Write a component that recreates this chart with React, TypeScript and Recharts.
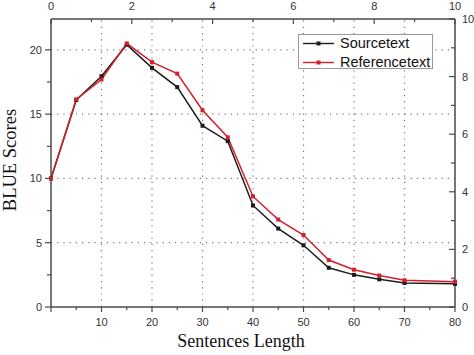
import React from 'react';
import { LineChart, Line, XAxis, YAxis, ReferenceLine, Legend, Label } from 'recharts';

// sentence length buckets and BLEU scores
const lengths = [0, 5, 10, 15, 20, 25, 30, 35, 40, 45, 50, 55, 60, 65, 70, 80];
const sourceScores = [10.0, 16.1, 17.95, 20.4, 18.6, 17.1, 14.1, 12.9, 7.9, 6.1, 4.8, 3.05, 2.5, 2.15, 1.87, 1.8];
const referenceScores = [10.0, 16.15, 17.7, 20.5, 19.05, 18.15, 15.3, 13.2, 8.6, 6.8, 5.6, 3.65, 2.9, 2.45, 2.08, 1.97];

const seriesNames = ['Sourcetext', 'Referencetext'];
const seriesColors = ['#1c1c1c', '#d2202c'];

const bottomTicks = [0, 5, 10, 15, 20, 25, 30, 35, 40, 45, 50, 55, 60, 65, 70, 75, 80];
const leftTicks = [0, 2.5, 5, 7.5, 10, 12.5, 15, 17.5, 20];
const topTicks = [0, 1, 2, 3, 4, 5, 6, 7, 8, 9, 10];
const rightTicks = [0, 1, 2, 3, 4, 5, 6, 7, 8, 9, 10];
const gridX = [10, 20, 30, 40, 50, 60, 70];
const gridY = [5, 10, 15, 20];

const data = lengths.map((len, i) => ({
  len,
  source: sourceScores[i],
  reference: referenceScores[i],
}));

const SANS = 'Arial, "Liberation Sans", sans-serif';
const SERIF = '"Times New Roman", "Liberation Serif", serif';
const FRAME = '#4a4a4a';
const TICK_TEXT = '#333';

const bottomTick = (props: any) => {
  const { x, y, payload } = props;
  const v = payload.value;
  const major = v % 10 === 0;
  return (
    <g>
      <line x1={x} x2={x} y1={y} y2={y + (major ? 5 : 3)} stroke={FRAME} strokeWidth={1.2} />
      {major && v !== 0 && (
        <text x={x} y={y + 15} textAnchor="middle" dominantBaseline="central" fontFamily={SANS} fontSize={11} fill={TICK_TEXT}>
          {v}
        </text>
      )}
    </g>
  );
};

const leftTick = (props: any) => {
  const { x, y, payload } = props;
  const v = payload.value;
  const major = v % 5 === 0;
  return (
    <g>
      <line x1={x - (major ? 6 : 4)} x2={x} y1={y} y2={y} stroke={FRAME} strokeWidth={1.2} />
      {major && (
        <text x={x - 9} y={y} textAnchor="end" dominantBaseline="central" fontFamily={SANS} fontSize={11} fill={TICK_TEXT}>
          {v}
        </text>
      )}
    </g>
  );
};

const topTick = (props: any) => {
  const { x, y, payload } = props;
  const v = payload.value;
  const major = v % 2 === 0;
  return (
    <g>
      <line x1={x} x2={x} y1={y} y2={y + (major ? 5 : 3)} stroke={FRAME} strokeWidth={1.2} />
      {major && (
        <text x={x} y={y - 13} textAnchor="middle" dominantBaseline="central" fontFamily={SANS} fontSize={11} fill={TICK_TEXT}>
          {v}
        </text>
      )}
    </g>
  );
};

const rightTick = (props: any) => {
  const { x, y, payload } = props;
  const v = payload.value;
  const major = v % 2 === 0;
  return (
    <g>
      <line x1={x - (major ? 6 : 4)} x2={x} y1={y} y2={y} stroke={FRAME} strokeWidth={1.2} />
      {major && (
        <text x={x + 7} y={y} textAnchor="start" dominantBaseline="central" fontFamily={SANS} fontSize={11} fill={TICK_TEXT}>
          {v}
        </text>
      )}
    </g>
  );
};

const squareDot = (color: string) => (props: any) => {
  const { cx, cy, index } = props;
  if (cx == null || cy == null) return <g key={index} />;
  return <rect key={index} x={cx - 2} y={cy - 2} width={4} height={4} fill={color} />;
};

const LegendBox = () => (
  <div
    style={{
      position: 'relative',
      width: 133,
      height: 33,
      border: '1px solid #9a9a9a',
      background: '#fff',
      fontFamily: SANS,
      fontSize: 14.5,
      color: '#111',
    }}
  >
    {seriesNames.map((name, i) => (
      <div
        key={name}
        style={{ position: 'absolute', left: 0, top: i * 19, height: 17, lineHeight: '17px', display: 'flex', alignItems: 'center' }}
      >
        <svg width={41} height={17} style={{ display: 'block' }}>
          <line x1={4} x2={35} y1={8.5} y2={8.5} stroke={seriesColors[i]} strokeWidth={1.4} />
          <rect x={17.5} y={6.5} width={4} height={4} fill={seriesColors[i]} />
        </svg>
        <span>{name}</span>
      </div>
    ))}
  </div>
);

export default function App() {
  const gridStyle = { stroke: '#777', strokeDasharray: '1.2 5', strokeWidth: 1.2 };
  return (
    <div style={{ position: 'absolute', left: 0, top: 0, width: 474, height: 355, background: '#fff' }}>
      <LineChart width={474} height={355} data={data} margin={{ top: 0, right: 0, bottom: 0, left: 0 }}>
        <XAxis
          xAxisId="bottom"
          dataKey="len"
          type="number"
          domain={[0, 80]}
          ticks={bottomTicks}
          interval={0}
          height={48}
          tickSize={0}
          tickMargin={0}
          tickLine={false}
          tick={bottomTick}
          axisLine={{ stroke: FRAME, strokeWidth: 1.5 }}
        >
          <Label
            content={() => (
              <text x={241} y={347} textAnchor="middle" fontFamily={SERIF} fontSize={18} fill="#111">
                Sentences Length
              </text>
            )}
          />
        </XAxis>
        {/* secondary top scale, 0-10, no series of its own */}
        <XAxis
          xAxisId="top"
          orientation="top"
          dataKey="len"
          type="number"
          domain={[0, 10]}
          allowDataOverflow
          ticks={topTicks}
          interval={0}
          height={19}
          tickSize={0}
          tickMargin={0}
          tickLine={false}
          tick={topTick}
          axisLine={{ stroke: FRAME, strokeWidth: 1.5 }}
        />
        <YAxis
          yAxisId="left"
          type="number"
          domain={[0, 22.4]}
          allowDataOverflow
          ticks={leftTicks}
          interval={0}
          width={51}
          tickSize={0}
          tickMargin={0}
          tickLine={false}
          tick={leftTick}
          axisLine={{ stroke: FRAME, strokeWidth: 1.5 }}
        >
          <Label
            content={() => (
              <text x={16} y={160} transform="rotate(-90 16 160)" textAnchor="middle" fontFamily={SERIF} fontSize={18.5} fill="#111">
                BLUE Scores
              </text>
            )}
          />
        </YAxis>
        <YAxis
          yAxisId="right"
          orientation="right"
          type="number"
          domain={[0, 10]}
          allowDataOverflow
          ticks={rightTicks}
          interval={0}
          width={19}
          tickSize={0}
          tickMargin={0}
          tickLine={false}
          tick={rightTick}
          axisLine={{ stroke: FRAME, strokeWidth: 1.5 }}
        />
        {gridX.map((v) => (
          <ReferenceLine key={'gx' + v} xAxisId="bottom" yAxisId="left" x={v} {...gridStyle} />
        ))}
        {gridY.map((v) => (
          <ReferenceLine key={'gy' + v} xAxisId="bottom" yAxisId="left" y={v} {...gridStyle} />
        ))}
        <Line
          xAxisId="bottom"
          yAxisId="left"
          type="linear"
          dataKey="source"
          name={seriesNames[0]}
          stroke={seriesColors[0]}
          strokeWidth={1.5}
          dot={squareDot(seriesColors[0])}
          isAnimationActive={false}
        />
        <Line
          xAxisId="bottom"
          yAxisId="left"
          type="linear"
          dataKey="reference"
          name={seriesNames[1]}
          stroke={seriesColors[1]}
          strokeWidth={1.5}
          dot={squareDot(seriesColors[1])}
          isAnimationActive={false}
        />
        <Legend
          layout="horizontal"
          verticalAlign="middle"
          align="center"
          content={() => <LegendBox />}
          wrapperStyle={{ position: 'absolute', left: 298, top: 34, width: 'auto', height: 'auto' }}
        />
      </LineChart>
    </div>
  );
}
